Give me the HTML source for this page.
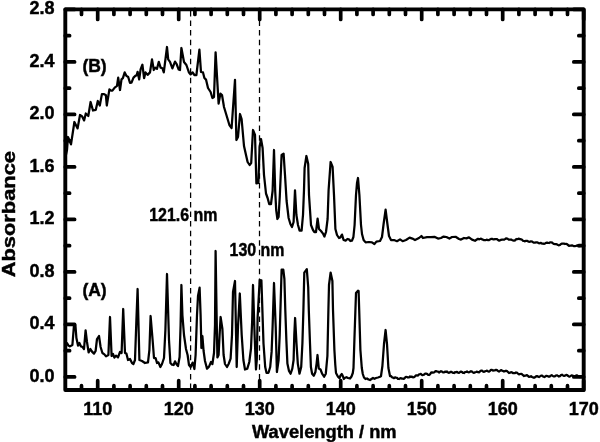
<!DOCTYPE html>
<html><head><meta charset="utf-8"><title>Absorbance vs Wavelength</title>
<style>
html,body{margin:0;padding:0;background:#fff;}
body{width:600px;height:442px;overflow:hidden;}
svg{display:block;}
text{font-family:"Liberation Sans",Arial,sans-serif;font-weight:bold;fill:#000;stroke:#000;stroke-width:0.45px;}
</style></head><body>
<svg width="600" height="442" viewBox="0 0 600 442">
<rect width="600" height="442" fill="#fff"/>
<g stroke="#000" stroke-width="1.25" stroke-dasharray="5.5 4.05" fill="none">
<path d="M190.6 11 V389"/><path d="M259.5 11 V389"/>
</g>
<path d="M65.5 157 L67 150 L68 137 L71 144.4 L74.4 122 L77.6 128.4 L80 115 L82.2 116.5 L84.1 120.4 L85.8 113.5 L88.3 116 L90.6 102 L93 110.5 L95.8 109.8 L97.8 101 L99.8 105.5 L101.9 94.1 L104.1 94.1 L105.9 95.3 L106.8 105.5 L109.4 89.4 L111.2 90.6 L112.4 90.6 L114.7 87.6 L117 85.9 L118.2 77.6 L120 90 L121.5 79.4 L122.9 78.2 L124.7 72.4 L126.5 75.9 L128.2 77 L130 82.9 L131.5 82.7 L133.5 77.6 L135.3 75.9 L136.7 75.3 L137.6 71.8 L139.2 79.4 L140.6 69.4 L142.4 64.7 L144.1 78.2 L145.5 72.4 L147.6 74.9 L150 72.4 L152 59.4 L153.8 70 L155.3 67.6 L157 68.8 L158.8 61.8 L160.6 67.6 L162.4 68.2 L163.8 72.4 L167 47 L168.2 59.4 L170 61.8 L172.4 68.4 L175 61.6 L176.6 64 L178.6 69.4 L180 70 L181.4 48 L184 62 L186.4 65 L189 72.6 L190.6 74.4 L192.6 72.4 L194.4 75 L196.4 75 L199.4 49.6 L201 72 L203 72.4 L204.4 78 L206 79.6 L208 88 L210.6 92 L212.4 98 L214 97 L215.6 52.4 L218.6 103.6 L220.4 93.6 L222 95 L224 107 L227 117 L229.4 125 L231.6 128 L235 79.8 L236.4 140 L238 137 L240 114 L241.6 119 L244 146 L246 155 L247.6 162 L249.6 165 L251.2 163 L253 130 L255 135 L256.4 183.4 L258.4 183 L259.6 147 L261 139 L262.6 148 L264 175 L266 193.5 L267.6 198 L269.2 204 L271 204 L272.6 191 L274 150 L275.2 191 L276.2 210 L277.4 219 L278.6 217 L279.8 196 L281.6 155 L283.6 153.6 L285 175 L286.6 201 L288.6 218 L290.4 224 L292 227 L293.6 222 L295 190.3 L296.4 215 L298 225 L299.6 230.6 L301.6 230.6 L303 215 L304 190 L304.6 168 L306.4 156 L308.2 164 L309 195 L311 225 L313 230 L314.4 232 L316 232 L317.6 218.6 L319 229 L321 231 L323 233.6 L324.4 236.6 L326 232 L327.6 219 L328.6 190 L330.6 162 L332.6 167 L334 195 L335.4 229 L337 235 L339 238 L340.4 237.4 L342 234.6 L343.6 240 L345.6 240.6 L347.4 239 L349 239.4 L350.4 241 L352 240.6 L353.4 237 L354.6 225 L356 195 L357 183 L358 178 L359.4 195 L361 225 L362 234 L363.6 240 L365.6 242.4 L369 242 L372 242.4 L374.4 244 L376.4 241.6 L380 241 L382 237 L383.6 224 L385.6 209.6 L387.4 224 L389 236 L391 240 L394 240 L397 241.2 L400 239.4 L402.6 241.2 L406 240 L409.6 237.6 L412.4 238.6 L415 240 L419 238 L421.4 236 L423 238 L427 237.2 L431 237.2 L434.4 236.8 L438 238.6 L441 238 L443.6 236.6 L446.4 237 L449.4 238.6 L452 237 L455.6 236.8 L459 239 L461 239.6 L464 238 L466.4 238.4 L469 237.4 L472 239.6 L475 240.8 L478 238.8 L479 239.3 L480 239 L481 238.7 L482 239.4 L483 239.7 L484 240.1 L485 240 L486 240 L487 239.7 L488 240.1 L489 240.1 L490 239.4 L491 238.9 L492 238.8 L493 239.3 L494 239.4 L495 239 L496 239 L497 239.1 L498 240 L499 240.7 L500 240.4 L501 239.8 L502 239.6 L503 239.7 L504 239.7 L505 239.1 L506 238.3 L507 238.6 L508 239.1 L509 239.7 L510 239.7 L511 239.5 L512 240 L513 240.4 L514 240.7 L515 240.4 L516 239.4 L517 239 L518 239.1 L519 238.6 L520 239.2 L521 239.3 L522 239.8 L523 240.8 L524 241 L525 241.3 L526 240.8 L527 240.8 L528 241.4 L529 241.8 L530 241.6 L531 241.3 L532 241.5 L533 242.2 L534 242.7 L535 242.6 L536 242.4 L537 242.3 L538 242.8 L539 243.3 L540 243.2 L541 242.9 L542 243.6 L543 243.5 L544 243.8 L545 243.5 L546 242.8 L547 242.6 L548 242.9 L549 243 L550 242.4 L551 242.3 L552 242.5 L553 243.3 L554 244 L555 244.2 L556 244.1 L557 244.4 L558 245 L559 245.3 L560 244.9 L561 244 L562 243.6 L563 243.7 L564 243.6 L565 244 L566 243.9 L567 244.2 L568 245 L569 245.8 L570 245.6 L571 245.6 L572 245.4 L573 245.8 L574 246.2 L575 246.1 L576 246 L577 245.4 L578 245.8 L579 246.2 L580 246.1 L581 245.6 L582 245.6" fill="none" stroke="#000" stroke-width="2.25" stroke-linejoin="round" stroke-linecap="round"/>
<path d="M65.5 343 L67 343 L68.4 345.6 L70 346.4 L72.4 345 L74 325 L75.4 325 L76.4 338 L78 345.6 L79.4 343 L81 346.4 L82.6 347 L84 349 L85.6 330.4 L87 342 L88.6 352.4 L90.4 349 L92 351.6 L94 353.6 L95.6 351 L97 339 L99 336 L100.6 347 L102.4 353 L104.4 354.4 L106 356.4 L108.4 355 L110 317 L111.6 356 L113 354 L114.4 357.6 L116 355.6 L118 357.4 L120 352 L121.6 353 L123.2 309 L125 353 L126.4 353.6 L128 360 L130 359 L132 363 L133.4 364 L135 360 L136.4 320 L137.6 289 L139.4 360 L142 361 L145 363 L148 362.4 L149.4 350 L150.6 316 L152.6 340 L154 358 L155.6 358 L157 363 L158.4 362.4 L160.4 367 L162 364 L164 358 L165.4 330 L167 274 L169 340 L170.4 363 L172 364.6 L173.6 365 L175 361.4 L176.4 364 L178 366 L179.6 357 L180.6 325 L181.4 285 L182.4 315 L184 335 L186 349 L187.6 355 L189 365 L190.6 367 L192.6 362.6 L194.4 369 L195.6 355 L197 315 L198 296 L199.6 287.6 L200.6 315 L201.4 348 L202.4 336 L203.6 351 L205 361 L207 368.6 L209 366.6 L211 362 L212.4 364 L214 353 L215 325 L215.6 251 L216.6 315 L217.4 357.4 L218.6 355 L219.6 335 L220.6 317 L222.4 329 L223.6 355 L225 364 L227 367 L228.6 364 L230.6 358.6 L232 335 L233 292 L235 281 L236.7 367 L238 326.8 L239.8 293.5 L241.7 335 L243.4 360 L245 369.5 L247.3 368.6 L249.3 362 L251 348.5 L252.2 320 L253 285 L254.6 335 L256 369.5 L256.8 360 L257.6 318 L259.7 280 L261.4 280.4 L263.5 343.5 L265.2 367 L266.5 372.8 L268.5 372.8 L270.2 367 L271.6 351.9 L272.6 326.8 L274 283 L275.7 326.8 L276.9 372 L278.6 360 L279.7 335 L281.6 269.7 L283.3 269.7 L284.4 279 L285.3 310 L286.4 341 L287.4 363.6 L289 371 L290.6 373.7 L292.3 368.6 L293.6 360 L294.3 335 L295.1 318 L296.5 343.5 L297.8 363.6 L299.5 373.7 L301.2 367 L302.4 343.5 L303.4 310 L304.3 272.6 L306.8 269.2 L308.2 287 L308.8 310 L310 343.5 L310.9 367 L312.1 373.7 L313.8 375.7 L315.4 372 L316.6 363.6 L317.5 355 L318.8 368.6 L320.5 369.5 L322.1 373.7 L324.1 376.7 L325.8 373.7 L327.4 356 L328.4 310 L329 285 L330.6 272.6 L332.4 281 L333 310 L334.4 350 L335.3 365 L336 373 L338 376.8 L339.5 378.2 L340.5 375.5 L341.8 374 L342.8 376 L343.8 379 L345 377.8 L346.5 377.2 L348 378 L350 378.5 L351.5 376.5 L352.8 373 L353.5 368 L354.4 340 L356 293 L358 290.6 L358.6 291 L359.2 310 L360.4 350 L361.8 368 L362.8 374 L364 377.5 L365.5 379 L367 378.5 L368.5 379.5 L370 380 L371.5 379 L373 378 L374.5 378.8 L376 378 L378 377.5 L380 376.8 L381 376 L382.4 366 L384 344 L385.6 330 L387 344 L388.4 368 L390 376 L391 376 L392 377.2 L393 377.6 L394 378.2 L395 377.3 L396 377.6 L397 377.8 L398 378.9 L399 379 L400 378.4 L401 378.1 L402 378.7 L403 378.6 L404 378.9 L405 377.7 L406 376.8 L407 377 L408 377.5 L409 377.3 L410 376.5 L411 377 L412 376.6 L413 377.3 L414 377.2 L415 376.4 L416 375.4 L417 375.4 L418 375.6 L419 374.4 L420 374.2 L421 373.9 L422 375 L423 375 L424 374.7 L425 373.7 L426 373.6 L427 373.8 L428 374.8 L429 375 L430 374.4 L431 372.7 L432 372.4 L433 372.6 L434 372.5 L435 371.6 L436 371.1 L437 371.5 L438 371.6 L439 372.5 L440 371.8 L441 371.2 L442 371.6 L443 372.3 L444 372.4 L445 371.6 L446 372 L447 371.5 L448 372.5 L449 372.8 L450 372.2 L451 371.7 L452 372.2 L453 372.9 L454 373 L455 372.2 L456 372.4 L457 371.8 L458 372.6 L459 372.8 L460 372.1 L461 371.6 L462 372 L463 372.8 L464 373 L465 372.2 L466 372 L467 371.5 L468 372.2 L469 372.4 L470 371.8 L471 371.2 L472 371.6 L473 372.5 L474 372.9 L475 372.3 L476 372 L477 371.6 L478 372.2 L479 372.3 L480 371.4 L481 370.6 L482 370.7 L483 371.5 L484 371.9 L485 371.3 L486 371 L487 370.7 L488 371.4 L489 371.6 L490 370.8 L491 369.9 L492 369.9 L493 370.6 L494 370.4 L495 370.4 L496 369.8 L497 370.1 L498 371 L499 371.5 L500 370.9 L501 370.1 L502 370.6 L503 371 L504 371.5 L505 371.2 L506 370.7 L507 371.1 L508 372 L509 373 L510 372.7 L511 372.2 L512 372.3 L513 373.2 L514 373 L515 373.2 L516 372.5 L517 372.7 L518 373.7 L519 374.4 L520 374 L521 373.9 L522 374.2 L523 375.2 L524 376 L525 375.7 L526 375.6 L527 375.1 L528 376 L529 376.8 L530 376.6 L531 376.2 L532 377 L533 377.3 L534 377.8 L535 377.3 L536 376.4 L537 376.1 L538 376.6 L539 377 L540 376.4 L541.1 375.6 L542.1 375.6 L543.2 376.6 L544.3 377.1 L545.3 376.5 L546.4 375.8 L547.5 376 L548.5 376.7 L549.6 376.7 L550.7 375.7 L551.7 375.1 L552.8 376 L553.8 376.4 L554.8 376.3 L555.9 375.5 L556.9 375.3 L557.9 375.9 L558.9 376.5 L559.9 376.2 L561 375.1 L562 374.7 L563 375.4 L564.1 375.9 L565.1 375.6 L566.2 374.9 L567.2 375.1 L568.3 376.1 L569.4 376.7 L570.4 376.1 L571.5 375.4 L572.5 375.6 L573.6 376 L574.6 376.5 L575.7 375.8 L576.8 375.3 L577.8 375.9 L578.9 376.9 L579.9 377.1 L581 376.4 L582 376.6" fill="none" stroke="#000" stroke-width="2.25" stroke-linejoin="round" stroke-linecap="round"/>
<path d="M81.50 390.0 V385.70 M81.50 9.4 V14.40 M97.70 390.0 V380.70 M97.70 9.4 V19.40 M113.90 390.0 V385.70 M113.90 9.4 V14.40 M130.10 390.0 V385.70 M130.10 9.4 V14.40 M146.30 390.0 V385.70 M146.30 9.4 V14.40 M162.50 390.0 V385.70 M162.50 9.4 V14.40 M178.70 390.0 V380.70 M178.70 9.4 V19.40 M194.90 390.0 V385.70 M194.90 9.4 V14.40 M211.10 390.0 V385.70 M211.10 9.4 V14.40 M227.30 390.0 V385.70 M227.30 9.4 V14.40 M243.50 390.0 V385.70 M243.50 9.4 V14.40 M259.70 390.0 V380.70 M259.70 9.4 V19.40 M275.90 390.0 V385.70 M275.90 9.4 V14.40 M292.10 390.0 V385.70 M292.10 9.4 V14.40 M308.30 390.0 V385.70 M308.30 9.4 V14.40 M324.50 390.0 V385.70 M324.50 9.4 V14.40 M340.70 390.0 V380.70 M340.70 9.4 V19.40 M356.90 390.0 V385.70 M356.90 9.4 V14.40 M373.10 390.0 V385.70 M373.10 9.4 V14.40 M389.30 390.0 V385.70 M389.30 9.4 V14.40 M405.50 390.0 V385.70 M405.50 9.4 V14.40 M421.70 390.0 V380.70 M421.70 9.4 V19.40 M437.90 390.0 V385.70 M437.90 9.4 V14.40 M454.10 390.0 V385.70 M454.10 9.4 V14.40 M470.30 390.0 V385.70 M470.30 9.4 V14.40 M486.50 390.0 V385.70 M486.50 9.4 V14.40 M502.70 390.0 V380.70 M502.70 9.4 V19.40 M518.90 390.0 V385.70 M518.90 9.4 V14.40 M535.10 390.0 V385.70 M535.10 9.4 V14.40 M551.30 390.0 V385.70 M551.30 9.4 V14.40 M567.50 390.0 V385.70 M567.50 9.4 V14.40 M583.70 390.0 V380.70 M583.70 9.4 V19.40 M65.3 376.88 H74.60 M583.7 376.88 H573.80 M65.3 350.63 H69.60 M583.7 350.63 H578.80 M65.3 324.38 H74.60 M583.7 324.38 H573.80 M65.3 298.13 H69.60 M583.7 298.13 H578.80 M65.3 271.88 H74.60 M583.7 271.88 H573.80 M65.3 245.63 H69.60 M583.7 245.63 H578.80 M65.3 219.39 H74.60 M583.7 219.39 H573.80 M65.3 193.14 H69.60 M583.7 193.14 H578.80 M65.3 166.89 H74.60 M583.7 166.89 H573.80 M65.3 140.64 H69.60 M583.7 140.64 H578.80 M65.3 114.39 H74.60 M583.7 114.39 H573.80 M65.3 88.14 H69.60 M583.7 88.14 H578.80 M65.3 61.90 H74.60 M583.7 61.90 H573.80 M65.3 35.65 H69.60 M583.7 35.65 H578.80 M65.3 9.40 H74.60 M583.7 9.40 H573.80" fill="none" stroke="#000" stroke-width="3.7" stroke-linecap="round"/>
<rect x="65.3" y="9.4" width="518.4" height="380.6" fill="none" stroke="#000" stroke-width="3.9" stroke-linejoin="round"/>
<g font-size="18px"><text x="97.7" y="414.5" text-anchor="middle">110</text><text x="178.7" y="414.5" text-anchor="middle">120</text><text x="259.7" y="414.5" text-anchor="middle">130</text><text x="340.7" y="414.5" text-anchor="middle">140</text><text x="421.7" y="414.5" text-anchor="middle">150</text><text x="502.7" y="414.5" text-anchor="middle">160</text><text x="583.7" y="414.5" text-anchor="middle">170</text><text x="54.6" y="381.8" text-anchor="end">0.0</text><text x="54.6" y="329.3" text-anchor="end">0.4</text><text x="54.6" y="276.8" text-anchor="end">0.8</text><text x="54.6" y="224.3" text-anchor="end">1.2</text><text x="54.6" y="171.8" text-anchor="end">1.6</text><text x="54.6" y="119.3" text-anchor="end">2.0</text><text x="54.6" y="66.8" text-anchor="end">2.4</text><text x="54.6" y="14.3" text-anchor="end">2.8</text></g>
<g font-size="17.5px">
<text x="82.4" y="71.7">(B)</text>
<text x="82.4" y="295.9">(A)</text>
<text x="149.2" y="221.1" textLength="68.3" lengthAdjust="spacingAndGlyphs">121.6 nm</text>
<text x="229.6" y="255.5" textLength="54.8" lengthAdjust="spacingAndGlyphs">130 nm</text>
</g>
<text x="324.3" y="437.6" text-anchor="middle" font-size="18.3px">Wavelength / nm</text>
<text transform="translate(15.1 214.2) rotate(-90) scale(1.25 1)" text-anchor="middle" font-size="17.5px">Absorbance</text>
</svg>
</body></html>
